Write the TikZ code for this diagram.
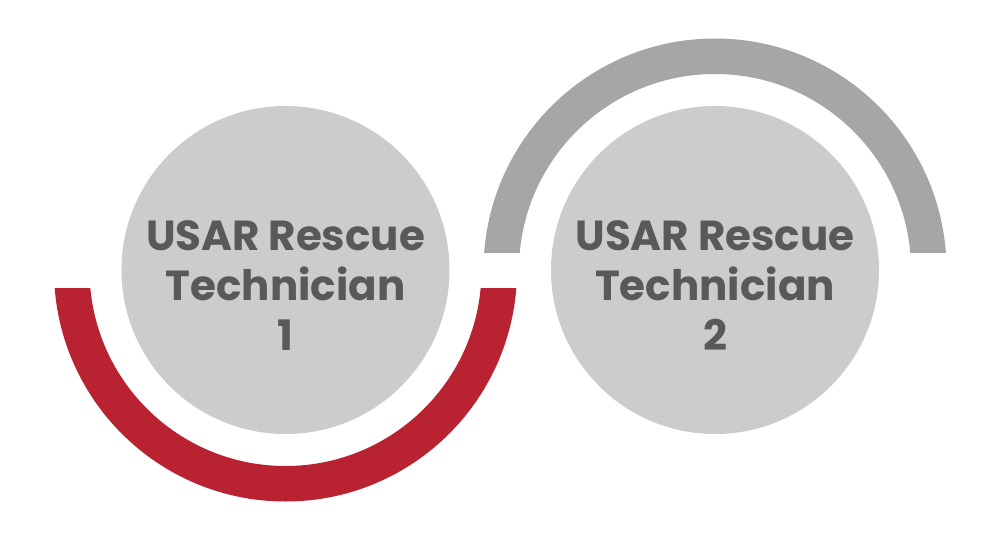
\documentclass[tikz,border=0pt]{standalone}
\usepackage{fontspec}
\setmainfont{Poppins}[UprightFont=* Bold, BoldFont=* Bold]
\definecolor{discgrey}{HTML}{CCCCCC}
\definecolor{arcgrey}{HTML}{A6A6A6}
\definecolor{arcred}{HTML}{B82231}
\definecolor{txtgrey}{HTML}{595959}
\tikzset{
  disc/.style={circle, fill=discgrey, draw=none, minimum size=328pt, inner sep=0pt},
  lab/.style={text=txtgrey, align=center, font=\fontsize{42pt}{50pt}\selectfont, inner sep=0pt},
}
\begin{document}
\begin{tikzpicture}[x=1pt,y=-1pt]
\useasboundingbox (0,0) rectangle (1000,540);
\fill[white] (0,0) rectangle (1000,540);
% red lower arc
\begin{scope}
\clip (0,288) rectangle (1000,540);
\fill[arcred, even odd rule] (285.5,270) circle (231.5pt) (285.5,270) circle (196pt);
\end{scope}
% grey upper arc
\begin{scope}
\clip (0,0) rectangle (1000,252);
\fill[arcgrey, even odd rule] (715,270) circle (231.5pt) (715,270) circle (196pt);
\end{scope}
\node[disc] (c1) at (285.5,270) {};
\node[disc] (c2) at (715,270) {};
\node[lab] (t1) at (285.5,286) {USAR Rescue\\Technician\\1};
\node[lab] (t2) at (715,286) {USAR Rescue\\Technician\\2};
\end{tikzpicture}
\end{document}
